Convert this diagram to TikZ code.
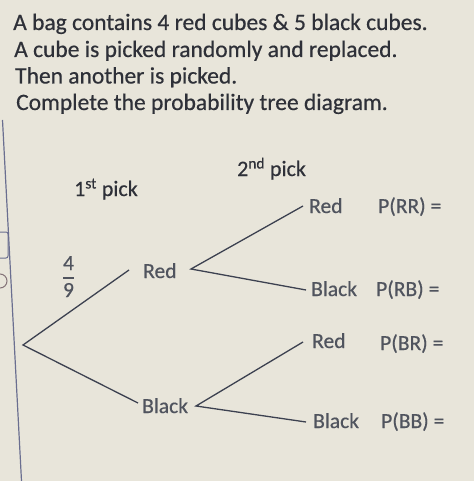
\documentclass[tikz,border=0pt]{standalone}
\usepackage{fontspec}
\setmainfont{Carlito}
\newfontfamily\thick[FakeBold=0.5]{Carlito}
\definecolor{bg}{HTML}{E8E5DA}
\definecolor{ink}{HTML}{2E3038}
\definecolor{lab}{HTML}{50545E}
\definecolor{branch}{HTML}{3C4150}
\definecolor{frame}{HTML}{6A6E90}
\begin{document}
\begin{tikzpicture}[x=1pt,y=-1pt,
  title/.style={anchor=base west,inner sep=0pt,text=ink,font=\thick\fontsize{23.5}{26}\selectfont},
  head/.style={anchor=base west,inner sep=0pt,text=ink,font=\thick\fontsize{22}{24}\selectfont},
  lbl/.style={anchor=base west,inner sep=0pt,text=lab,font=\thick\fontsize{21.5}{24}\selectfont},
  br/.style={draw=branch,line width=1.3pt}]
\fill[bg] (0,0) rectangle (474,481);
\useasboundingbox (0,0) rectangle (474,481);
% screen frame artefacts
\draw[frame,line width=1.2pt] (2.5,120) -- (21.5,481);
\draw[frame,line width=1pt,rounded corners=2pt] (-3,232) -- (8,232) -- (8,258) -- (-3,258);
\draw[frame!70!brown,line width=1pt] (0,281) circle (7);
% text
\node[title] (t1) at (13,30) {A bag contains 4 red cubes \& 5 black cubes.};
\node[title] (t2) at (14,57) {A cube is picked randomly and replaced.};
\node[title] (t3) at (15,83.5) {Then another is picked.};
\node[title] (t4) at (16,110) {Complete the probability tree diagram.};
\node[head] (p1) at (74,196) {1\textsuperscript{st} pick};
\node[head] (p2) at (237,176) {2\textsuperscript{nd} pick};
% tree points
\coordinate (root) at (23,345);
\coordinate (rA) at (129,270);
\coordinate (bA) at (138,403);
\coordinate (rV) at (191,269);
\coordinate (bV) at (196,406);
\coordinate (rr) at (303,206);
\coordinate (rb) at (306,290);
\coordinate (brr) at (303,342);
\coordinate (bb) at (306,422);
\draw[br] (rA) -- (root) -- (bA);
\draw[br] (rr) -- (rV) -- (rb);
\draw[br] (brr) -- (bV) -- (bb);
\node[lbl] (red1) at (143,278) {Red};
\node[lbl] (blk1) at (142,413) {Black};
% fraction 4/9
\node[lbl,anchor=base] (num) at (68.5,270) {4};
\node[lbl,anchor=base] (den) at (68.5,297) {9};
\coordinate (barL) at (63,278);
\coordinate (barR) at (74,278);
\draw[draw=lab,line width=1.1pt] (barL) -- (barR);
\node[lbl] (red2) at (309,213) {Red};
\node[lbl] (blk2) at (311,296) {Black};
\node[lbl] (red3) at (312,348) {Red};
\node[lbl] (blk3) at (313,428) {Black};
\node[lbl] (prr) at (378,213) {P(RR) =};
\node[lbl] (prb) at (376,296) {P(RB) =};
\node[lbl] (pbr) at (380,350) {P(BR) =};
\node[lbl] (pbb) at (381,428) {P(BB) =};
\end{tikzpicture}
\end{document}
